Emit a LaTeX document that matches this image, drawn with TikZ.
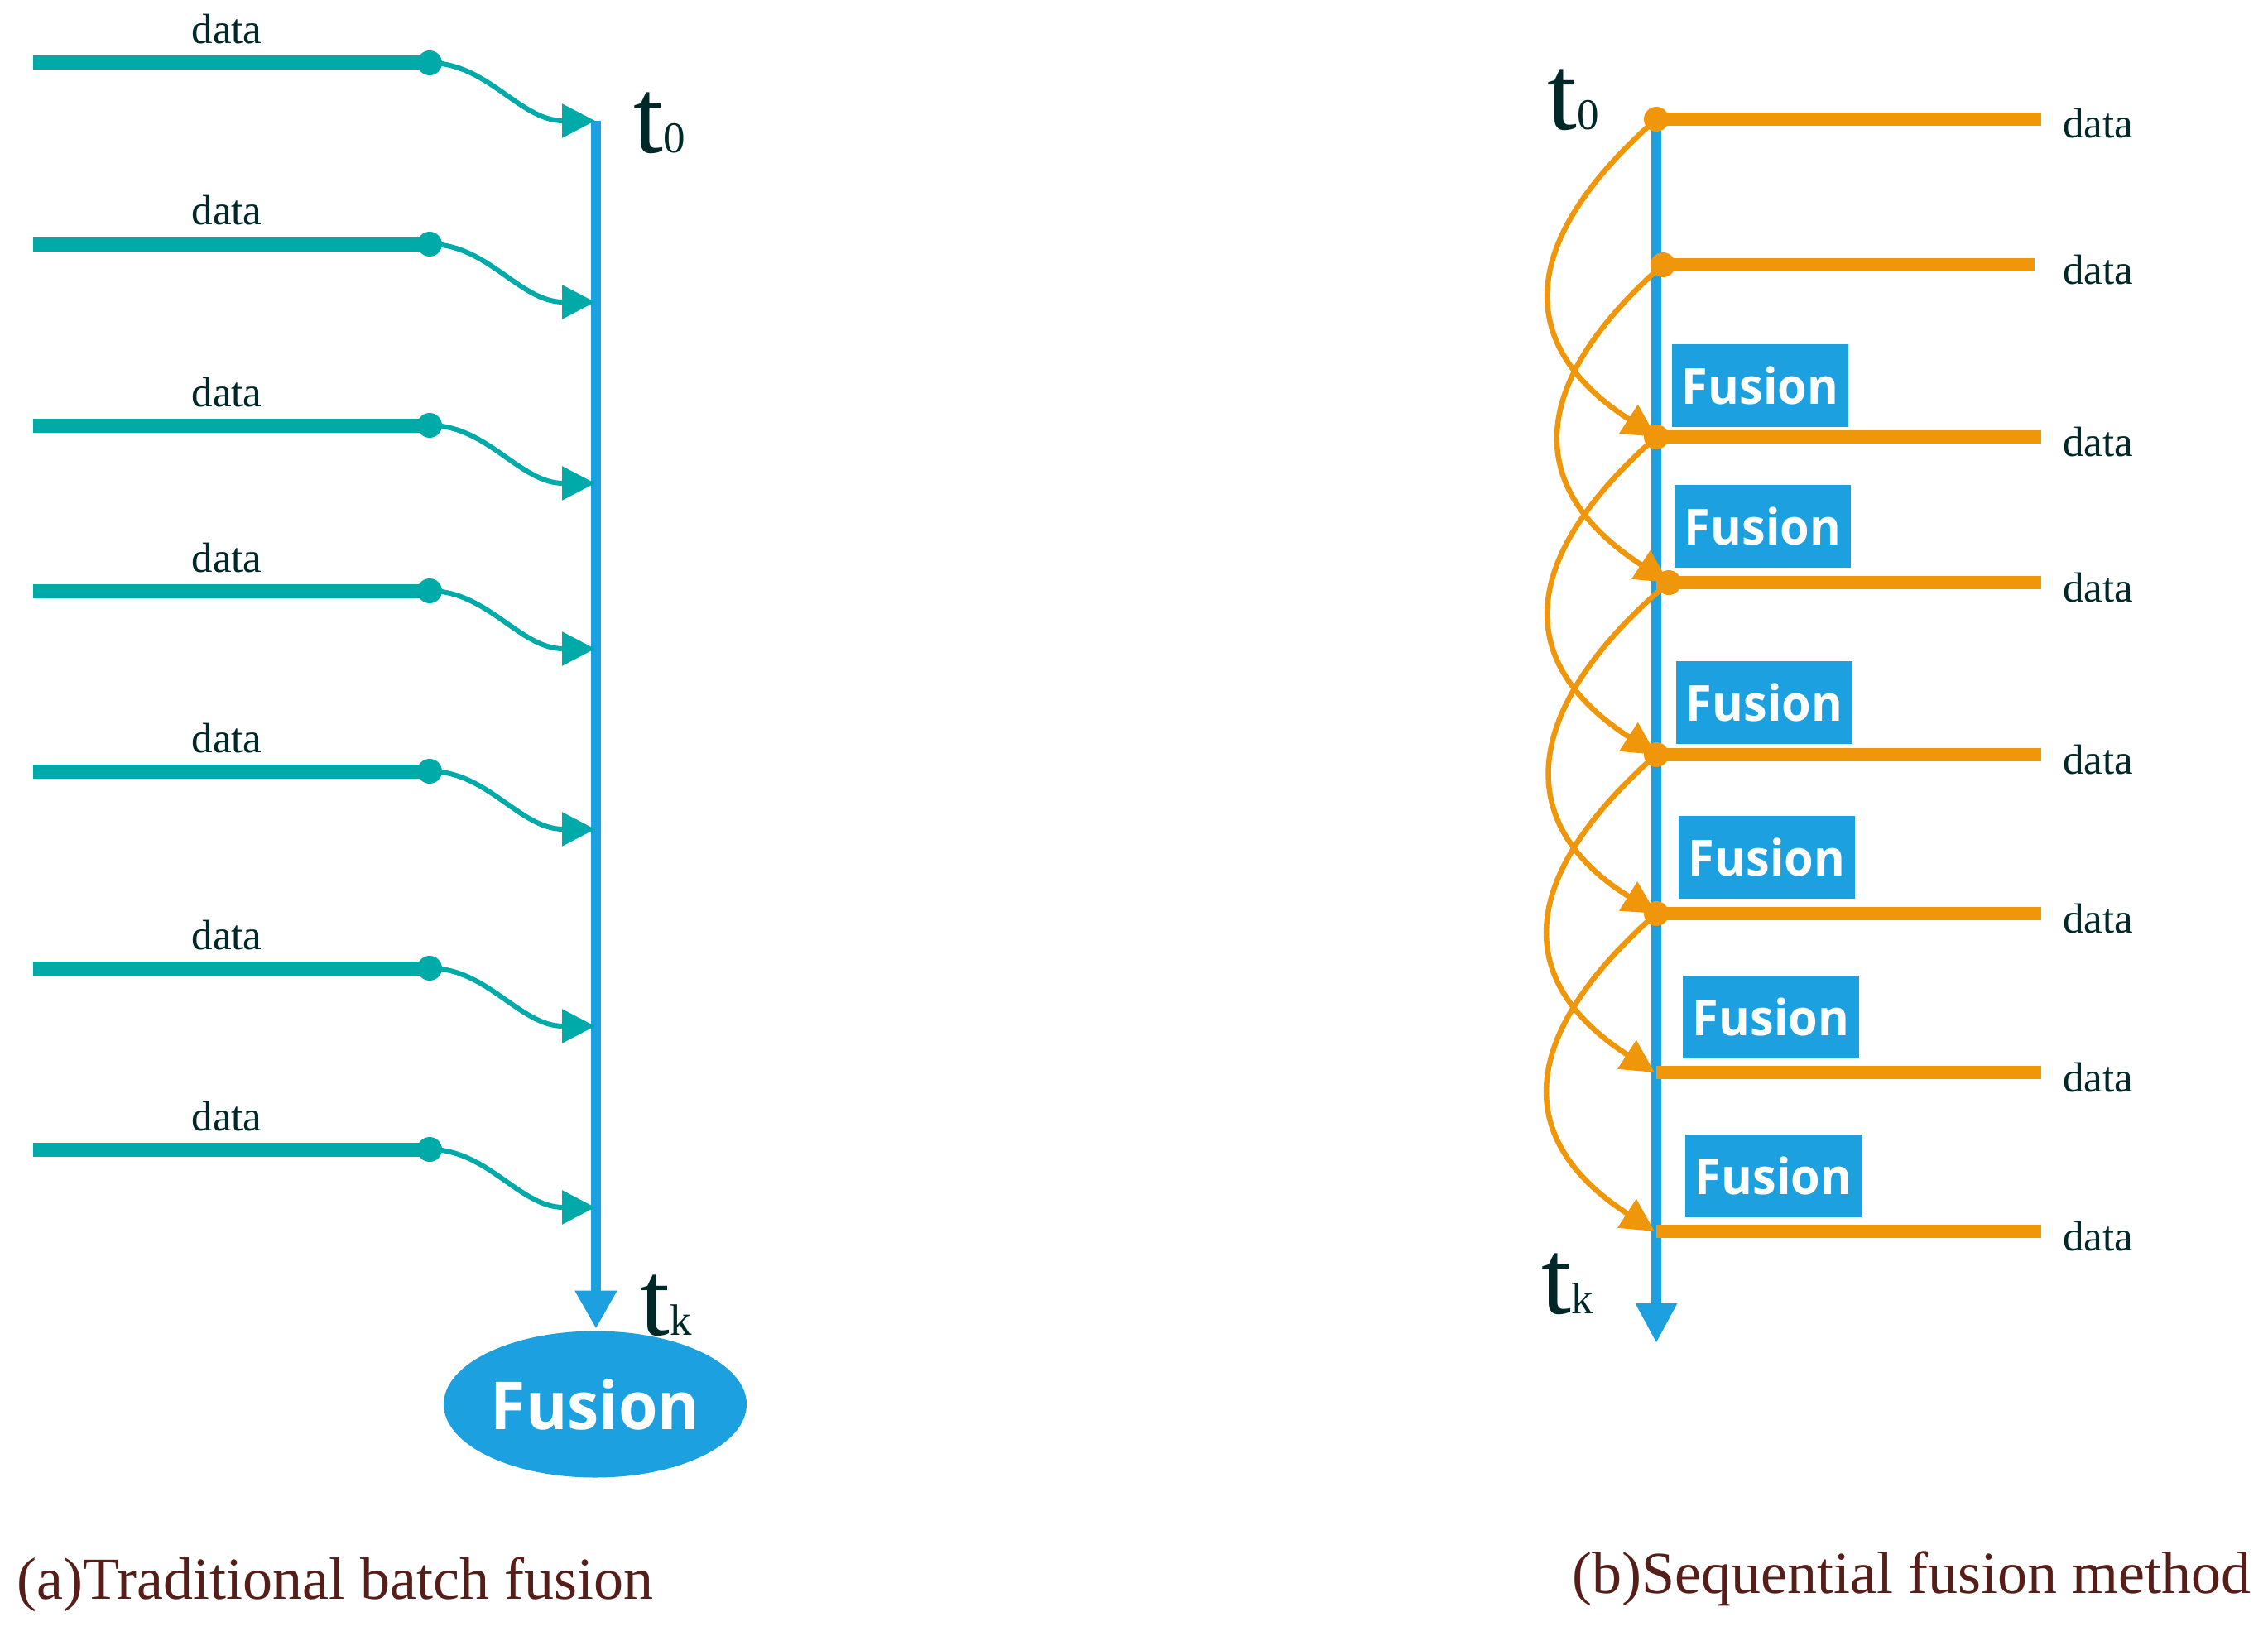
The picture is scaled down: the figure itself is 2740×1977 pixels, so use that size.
\documentclass[tikz,border=0pt]{standalone}
\usepackage{fontspec}
\setmainfont{Liberation Serif}
\newfontfamily\fusionfont[FakeStretch=0.96]{Open Sans}
\usetikzlibrary{arrows.meta,shapes.geometric}
\definecolor{teal1}{RGB}{0,170,168}
\definecolor{blue1}{RGB}{29,160,224}
\definecolor{orange1}{RGB}{240,150,10}
\definecolor{ink}{RGB}{0,40,40}
\definecolor{capcol}{RGB}{86,30,25}
\begin{document}
\begin{tikzpicture}[x=1pt,y=-1pt,
  tline/.style={teal1,line width=17pt},
  tdot/.style={circle,fill=teal1,inner sep=0pt,minimum size=30pt},
  tarrow/.style={teal1,line width=6pt,-{Triangle[length=40pt,width=40pt]}},
  axisline/.style={blue1,line width=12pt},
  oline/.style={orange1,line width=16pt},
  odot/.style={circle,fill=orange1,inner sep=0pt,minimum size=30pt},
  oarc/.style={orange1,line width=6.5pt,-{Triangle[length=40pt,width=40pt]}},
  datalbl/.style={text=ink,font=\fontsize{51}{51}\selectfont,inner sep=0pt},
  tlbl/.style={text=ink,inner sep=0pt,anchor=base west},
  fbox/.style={fill=blue1,text=white,minimum width=213pt,minimum height=100pt,inner sep=0pt,font=\fusionfont\bfseries\fontsize{60}{60}\selectfont},
  fell/.style={ellipse,fill=blue1,text=white,minimum width=366pt,minimum height=177pt,inner sep=0pt,font=\fusionfont\bfseries\fontsize{80}{80}\selectfont},
  captxt/.style={text=capcol,inner sep=0pt,anchor=base west,font=\fontsize{72}{72}\selectfont},
]
\useasboundingbox (0,0) rectangle (2740,1977);

% ---------- (a) traditional batch fusion ----------
\coordinate (ltop) at (720,146);
\node[fell] (fus) at (719,1697) {Fusion};
\draw[axisline,-{Triangle[length=46pt,width=48pt]},shorten >=3pt] (ltop) -- (720,1608.5) coordinate (lbot);

\foreach \i/\y in {1/76,2/295,3/514,4/714,5/932,6/1170,7/1389} {
  \coordinate (ls\i) at (40,\y);
  \coordinate (la\i) at (719,\y+70);
  \draw[tline] (ls\i) -- (519,\y) coordinate (le\i);
  \draw[tarrow] (le\i) .. controls (589,\y) and (628,\y+70) .. (la\i);
  \node[tdot] (ld\i) at (le\i) {};
  \node[datalbl,anchor=base] (ldata\i) at (274,\y-23) {data};
}

\node[tlbl] (t0a) at (765,185) {\fontsize{129}{129}\selectfont t\fontsize{53}{53}\selectfont 0};
\node[tlbl] (tka) at (773,1613) {\fontsize{129}{129}\selectfont t\fontsize{53}{53}\selectfont k};

\node[captxt] (capa) at (20,1932) {(a)Traditional batch fusion};

% ---------- (b) sequential fusion method ----------
\begin{scope}[xshift=-7pt]
\coordinate (rtop) at (2008,144);
\coordinate (rbot) at (2008,1623);
\draw[axisline,-{Triangle[length=48pt,width=47pt]}] (rtop) -- (rbot);

\foreach \i/\y/\xe in {1/144/2473,2/320/2465,3/528/2473,4/704/2473,5/912/2473,6/1104/2473,7/1296/2473,8/1488/2473} {
  \coordinate (ra\i) at (2008,\y);
  \coordinate (re\i) at (\xe,\y);
  \draw[oline] (ra\i) -- (re\i);
  \node[datalbl,anchor=base west] (rdata\i) at (2499,\y+23) {data};
}

\coordinate (rd1) at (2008,144);
\coordinate (rd2) at (2016,320);
\coordinate (rd3) at (2008,528);
\coordinate (rd4) at (2023,704);
\coordinate (rd5) at (2008,912);
\coordinate (rd6) at (2008,1104);
\coordinate (rd7) at (2006,1296);
\coordinate (rd8) at (2006,1488);

\draw[oarc] (rd1) .. controls (1838,294) and (1838,418) .. (rd3);
\draw[oarc] (rd2) .. controls (1846,470) and (1853,594) .. (rd4);
\draw[oarc] (rd3) .. controls (1838,678) and (1838,802) .. (rd5);
\draw[oarc] (rd4) .. controls (1846,854) and (1831,994) .. (rd6);
\draw[oarc] (rd5) .. controls (1838,1062) and (1836,1186) .. (rd7);
\draw[oarc] (rd6) .. controls (1838,1254) and (1836,1378) .. (rd8);

\foreach \i in {1,...,6} {
  \node[odot] (od\i) at (rd\i) {};
}

\node[fbox] (fb1) at (2133.5,466) {Fusion};
\node[fbox] (fb2) at (2136.5,636) {Fusion};
\node[fbox] (fb3) at (2138.5,849) {Fusion};
\node[fbox] (fb4) at (2141.5,1036) {Fusion};
\node[fbox] (fb5) at (2146.5,1229) {Fusion};
\node[fbox] (fb6) at (2149.5,1421) {Fusion};

\node[tlbl] (t0b) at (1876,157) {\fontsize{129}{129}\selectfont t\fontsize{53}{53}\selectfont 0};
\node[tlbl] (tkb) at (1869,1587) {\fontsize{129}{129}\selectfont t\fontsize{53}{53}\selectfont k};

\node[captxt] (capb) at (1906,1925) {(b)Sequential fusion method};
\end{scope}
\end{tikzpicture}
\end{document}
